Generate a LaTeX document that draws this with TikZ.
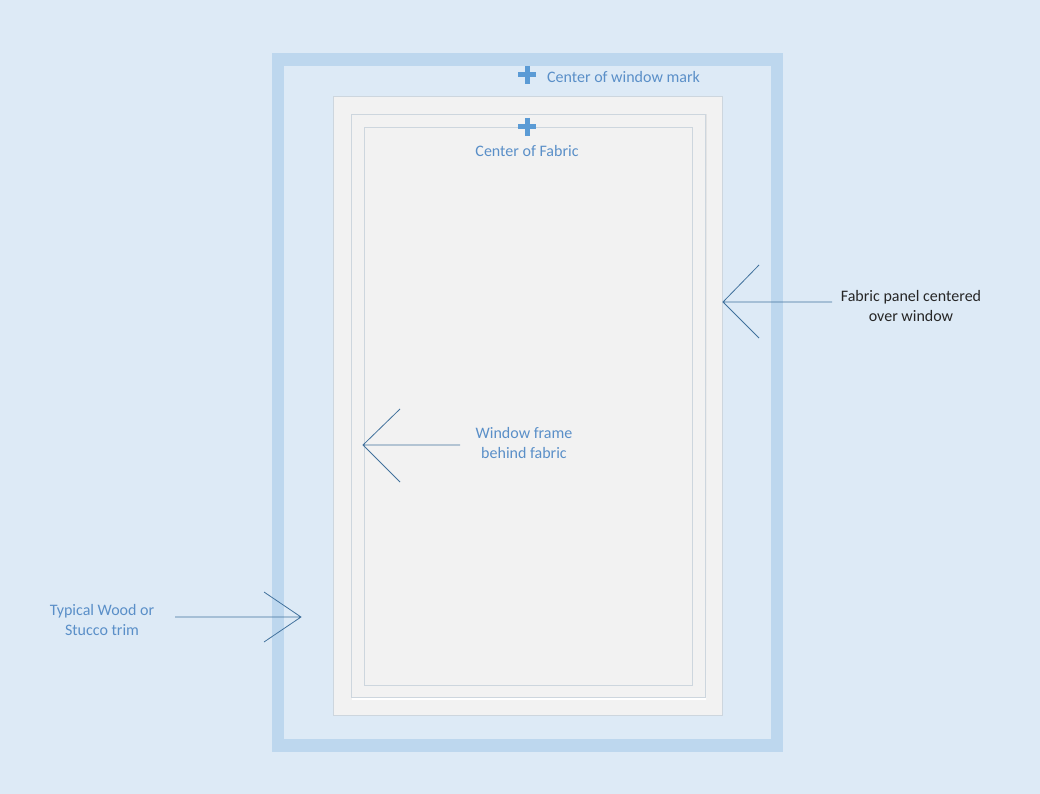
\documentclass[tikz,border=0pt]{standalone}
\usepackage{fontspec}
\setmainfont{Carlito}
\definecolor{bg}{HTML}{DDEAF6}
\definecolor{trim}{HTML}{BDD7EE}
\definecolor{panel}{HTML}{F2F2F2}
\definecolor{edge}{HTML}{CDD6DE}
\definecolor{shade}{HTML}{D6DFE8}
\definecolor{mark}{HTML}{5B9BD5}
\definecolor{lbl}{HTML}{5A8FC8}
\definecolor{arr}{HTML}{41719C}
\tikzset{
  lab/.style={font=\fontsize{16}{20}\selectfont, text=lbl, align=center, inner sep=0pt},
  blab/.style={lab, text=black!85},
  pointer/.style={draw=arr, line width=0.8pt},
  plusmark/.style={draw=mark, line width=5pt},
}
\begin{document}
\begin{tikzpicture}[x=1pt,y=-1pt]
\useasboundingbox (0,0) rectangle (1040,794);
\fill[bg] (0,0) rectangle (1040,794);
% trim
\fill[trim] (272,53) rectangle (783,752);
\fill[bg] (284,66) rectangle (771,739);
% fabric panel
\draw[edge, fill=panel, line width=0.8pt] (333,96) rectangle (722,715);
% window frame
\fill[shade] (352,115) rectangle (706,699.5);
\draw[edge, fill=panel, line width=0.8pt] (351,114) rectangle (705,697);
\draw[edge, fill=panel, line width=0.8pt] (364,127) rectangle (692,685);
% plus marks
\draw[plusmark] (518,75) -- (536,75) (527,66) -- (527,84);
\draw[plusmark] (518,127) -- (536,127) (527,118) -- (527,136);
% labels
\node[lab, anchor=west] (cwm) at (547,77) {Center of window mark};
\node[lab] (cof) at (527,151) {Center of Fabric};
\node[blab] (fab) at (911,306) {Fabric panel centered\\over window};
\node[lab] (wfb) at (524,443) {Window frame\\behind fabric};
\node[lab] (tw) at (102,620) {Typical Wood or\\Stucco trim};
% arrows
\coordinate (fabtip) at (723,302);
\coordinate (fabtail) at (832,302);
\draw[pointer] (fabtail) -- (fabtip) (759,265) -- (fabtip) -- (759,338);
\coordinate (wftip) at (363,445);
\coordinate (wftail) at (460,445);
\draw[pointer] (wftail) -- (wftip) (400,409) -- (wftip) -- (400,482);
\coordinate (twtip) at (301,617);
\coordinate (twtail) at (175,617);
\draw[pointer] (twtail) -- (twtip) (264,592) -- (twtip) -- (264,642);
\end{tikzpicture}
\end{document}
